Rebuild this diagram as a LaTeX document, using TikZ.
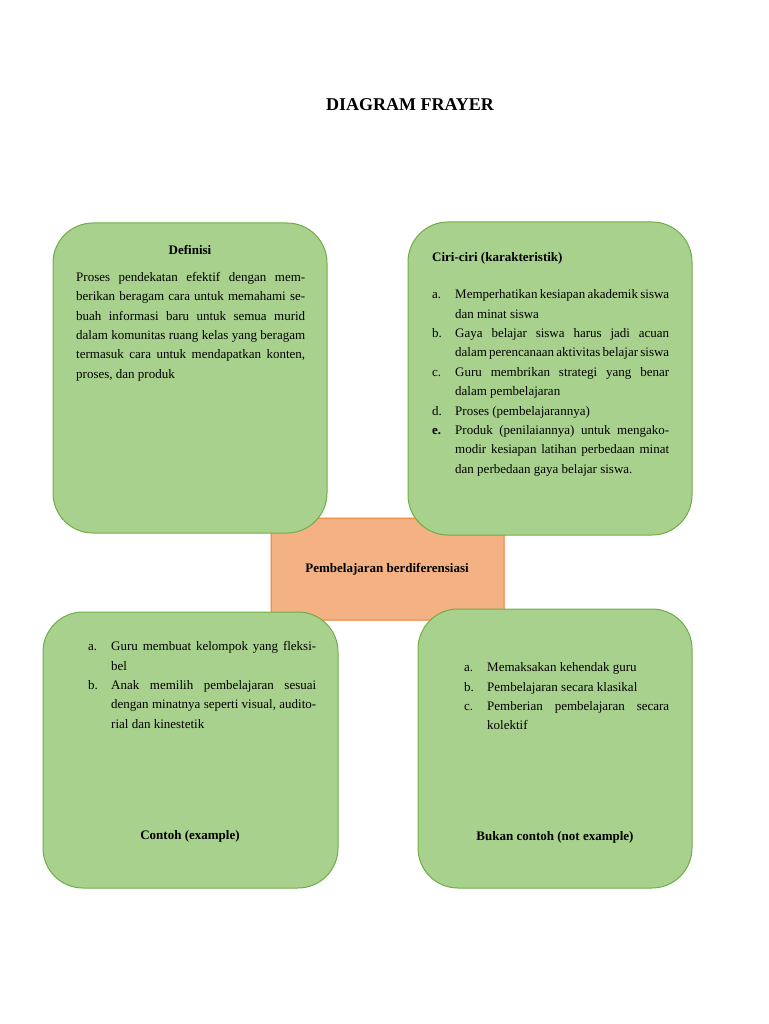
\documentclass[tikz,border=0pt]{standalone}
\usepackage{fontspec}
\setmainfont{Liberation Serif}
\definecolor{gfill}{HTML}{A9D18E}
\definecolor{gline}{HTML}{70AD47}
\definecolor{ofill}{HTML}{F4B183}
\definecolor{oline}{HTML}{ED7D31}
\newcommand{\itm}[2]{\par\hangindent=23pt\hangafter=1\noindent\makebox[23pt][l]{#1}#2\par}
\begin{document}
\begin{tikzpicture}[x=1pt,y=-1pt,
  gbox/.style={draw=gline,fill=gfill,line width=1pt,rounded corners=40pt},
  obox/.style={draw=oline,fill=ofill,line width=1pt,rounded corners=8pt},
  body/.style={font=\fontsize{13}{19.4}\selectfont,align=justify,inner sep=0pt,anchor=north west},
  ttl/.style={font=\fontsize{13}{16}\selectfont\bfseries,inner sep=0pt}]
\useasboundingbox (0,0) rectangle (768,1024);
\node[font=\fontsize{18}{20}\selectfont\bfseries] (title) at (410,105) {DIAGRAM FRAYER};
\draw[obox] (271,518) rectangle (504,620);
\node[ttl] (center) at (387,569) {Pembelajaran berdiferensiasi};
\draw[gbox] (53,223) rectangle (327,533);
\draw[gbox] (408,222) rectangle (692,535);
\draw[gbox] (43,612) rectangle (338,888);
\draw[gbox] (418,609) rectangle (692,888);
\node[ttl] (def) at (190,250) {Definisi};
\node[body,text width=229pt] (deft) at (76,272) {Proses pendekatan efektif dengan memberikan beragam cara untuk memahami sebuah informasi baru untuk semua murid dalam komunitas ruang kelas yang beragam termasuk cara untuk mendapatkan konten, proses, dan produk};
\node[ttl,anchor=west] (ciri) at (432,258) {Ciri-ciri (karakteristik)};
\node[body,text width=237pt] (cirit) at (432,279) {%
\itm{a.}{Memperhatikan kesiapan akademik siswa dan minat siswa}
\itm{b.}{Gaya belajar siswa harus jadi acuan dalam perencanaan aktivitas belajar siswa}
\itm{c.}{Guru membrikan strategi yang benar dalam pembelajaran}
\itm{d.}{Proses (pembelajarannya)}
\itm{\textbf{e.}}{Produk (penilaiannya) untuk mengakomodir kesiapan latihan perbedaan minat dan perbedaan gaya belajar siswa.}};
\node[body,text width=228pt] (cont) at (88,631) {%
\itm{a.}{Guru membuat kelompok yang fleksibel}
\itm{b.}{Anak memilih pembelajaran sesuai dengan minatnya seperti visual, auditorial dan kinestetik}};
\node[ttl] (contl) at (190,836) {Contoh (example)};
\node[body,text width=205pt] (bukt) at (464,652) {%
\itm{a.}{Memaksakan kehendak guru}
\itm{b.}{Pembelajaran secara klasikal}
\itm{c.}{Pemberian pembelajaran secara kolektif}};
\node[ttl] (bukl) at (555,837) {Bukan contoh (not example)};
\end{tikzpicture}
\end{document}
